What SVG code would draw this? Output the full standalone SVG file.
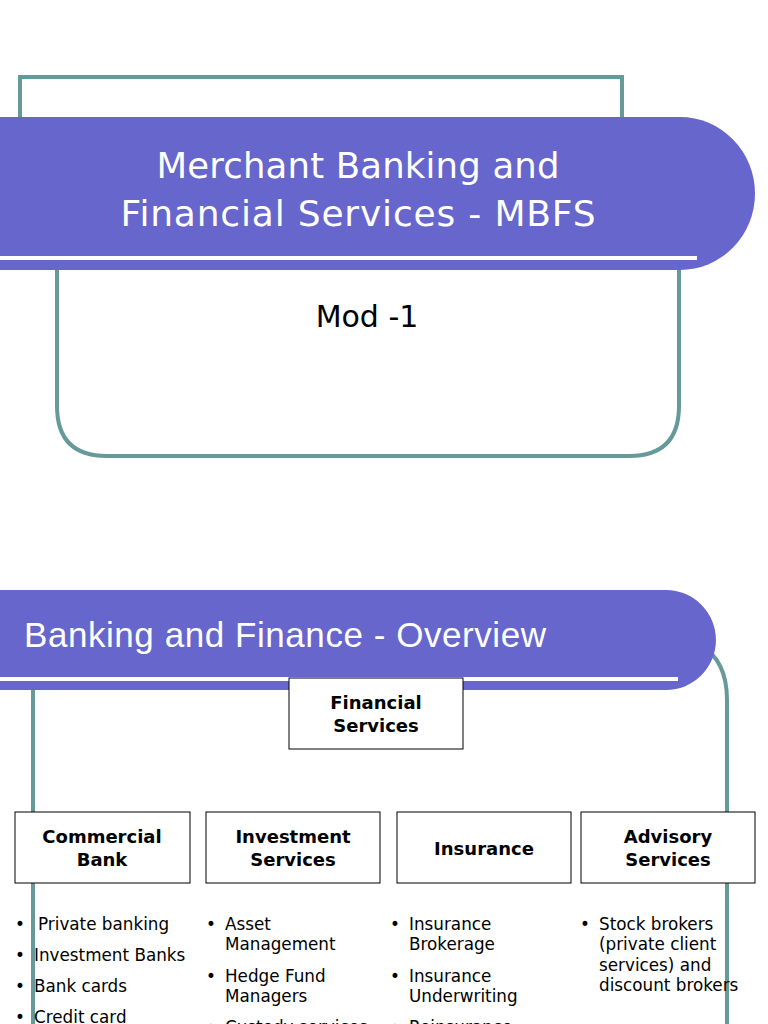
<svg xmlns="http://www.w3.org/2000/svg" width="768" height="1024" viewBox="0 0 768 1024">
<style>
.fr{fill:none;stroke:#669999;stroke-width:4}
.ban{fill:#6666cc}
.wl{stroke:#fff;stroke-width:4}
.bx{fill:#fff;stroke:#000;stroke-width:1}
.bt{font-family:"DejaVu Sans",sans-serif;font-weight:bold;font-size:18px;text-anchor:middle}
.li{font-family:"DejaVu Sans",sans-serif;font-size:16.8px}
</style>
<rect width="768" height="1024" fill="#fff"/>
<g id="slide1">
<path class="fr" d="M20 120 V77 H622 V120"/>
<path class="fr" d="M57 260 V406 Q57 456 107 456 H629 Q679 456 679 406 V260"/>
<path class="ban" d="M0 117 H680 A75 76.5 0 0 1 680 270 H0 Z"/>
<line class="wl" x1="0" y1="258" x2="697" y2="258"/>
<text x="358" y="178" font-family="DejaVu Sans,sans-serif" font-size="35.5" fill="#fff" text-anchor="middle" textLength="403">Merchant Banking and</text>
<text x="358" y="226" font-family="DejaVu Sans,sans-serif" font-size="36" fill="#fff" text-anchor="middle" textLength="475">Financial Services - MBFS</text>
<text x="367" y="327" font-family="DejaVu Sans,sans-serif" font-size="30" fill="#000" text-anchor="middle">Mod -1</text>
</g>
<g id="slide2">
<path class="fr" d="M33 690 V1024"/>
<path class="fr" d="M700 645 Q727 660 727 700 V1024"/>
<path class="ban" d="M0 590 H666 A50 50 0 0 1 666 690 H0 Z"/>
<line class="wl" x1="0" y1="679" x2="678" y2="679"/>
<text x="24" y="647" font-family="Liberation Sans,Arial,sans-serif" font-size="35" fill="#fff" textLength="522">Banking and Finance - Overview</text>
</g>
<g id="financial">
<rect class="bx" x="289" y="678" width="174" height="71"/>
<text class="bt" x="376" y="709">Financial</text>
<text class="bt" x="376" y="732">Services</text>
</g>
<g id="commercial">
<rect class="bx" x="15" y="812" width="175" height="71"/>
<text class="bt" x="102" y="843">Commercial</text>
<text class="bt" x="102" y="866">Bank</text>
</g>
<g id="investment">
<rect class="bx" x="206" y="812" width="174" height="71"/>
<text class="bt" x="293" y="843">Investment</text>
<text class="bt" x="293" y="866">Services</text>
</g>
<g id="insurance">
<rect class="bx" x="397" y="812" width="174" height="71"/>
<text class="bt" x="484" y="855">Insurance</text>
</g>
<g id="advisory">
<rect class="bx" x="581" y="812" width="174" height="71"/>
<text class="bt" x="668" y="843">Advisory</text>
<text class="bt" x="668" y="866">Services</text>
</g>
<g id="lists" class="li">
<text x="15" y="930">•</text><text x="38" y="930">Private banking</text>
<text x="15" y="961">•</text><text x="34" y="961">Investment Banks</text>
<text x="15" y="992">•</text><text x="34" y="992">Bank cards</text>
<text x="15" y="1023">•</text><text x="34" y="1023">Credit card</text>
<text x="206" y="930">•</text><text x="225" y="930">Asset</text>
<text x="225" y="950">Management</text>
<text x="206" y="982">•</text><text x="225" y="982">Hedge Fund</text>
<text x="225" y="1002">Managers</text>
<text x="206" y="1033">•</text><text x="225" y="1033">Custody services</text>
<text x="390" y="930">•</text><text x="409" y="930">Insurance</text>
<text x="409" y="950">Brokerage</text>
<text x="390" y="982">•</text><text x="409" y="982">Insurance</text>
<text x="409" y="1002">Underwriting</text>
<text x="390" y="1033">•</text><text x="409" y="1033">Reinsurance</text>
<text x="580" y="930">•</text><text x="599" y="930">Stock brokers</text>
<text x="599" y="950">(private client</text>
<text x="599" y="971">services) and</text>
<text x="599" y="991">discount brokers</text>
</g>
</svg>
